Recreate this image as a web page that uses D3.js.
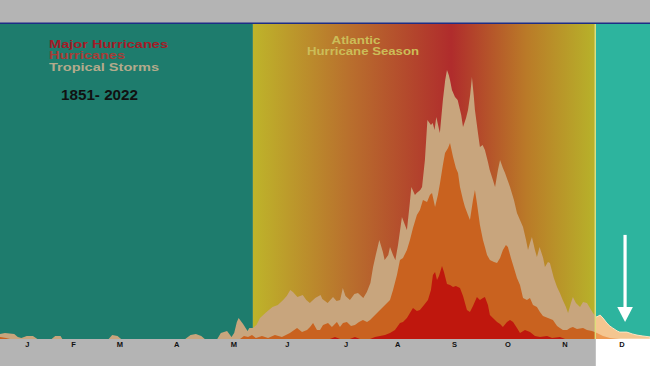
<!DOCTYPE html>
<html><head><meta charset="utf-8">
<script src="https://cdn.jsdelivr.net/npm/d3@7/dist/d3.min.js"></script>
<style>html,body{margin:0;padding:0;background:#b4b4b4;}svg{display:block;}</style>
</head><body>
<script>
// ---- data (day of year, storms per period) ----
const monthLabels = ["J","F","M","A","M","J","J","A","S","O","N","D"];
const monthTickDays = [15,41,67,99,131,161,194,223,255,285,317,349];
const seasonStartDay = 142;
const seasonEndDay = 334;
const arrowDay = 351;

const tropicalStorms = [
[0,1.7],[2.8,2],[8,1.7],[10,0.7],[12,0.3],[15,1],[18.5,1],[21,0],[29,0],[31,1],[34,1],[35,0],[61,0],[63,1.3],[66,1],[68,0],
[104,0],[107,1.3],[110,1.7],[113,1],[115,0],[122,0],[124,2],[127.5,2.7],[130,0.7],[131.5,2],[133,5.7],[134,7],[136.5,5],[139,2.7],
[140,3.7],[142,3.7],[144,4.7],[146,7],[149,8.7],[153,10.7],[156,11.3],[159,13],[161,14.3],[163,16.3],[164.5,15.7],[167,14],
[170,14.7],[172,13],[174,12],[177,13.7],[180,14.7],[181,13.3],[184,12],[187,14],[189,12.7],[191,13],[192.5,17],[194,14.3],
[196.5,13],[199,15],[201,15.3],[204,13.7],[206,15.7],[208,18.7],[209.5,24],[211,28],[213,33],[215,29],[216,26.3],[218,28],
[219,30.7],[220.7,28],[222,26.3],[223.5,31.3],[225.7,40.7],[227.4,38],[228.5,36.3],[230,44.7],[231,50.7],[233,48],[234,48.7],
[236,49.7],[237,50.7],[238.6,59.7],[240,73],[242,71.3],[243,72],[244,69.7],[245,74],[247,68.7],[248.7,79.7],[250,86.3],
[251,89.7],[252,88],[252.7,86.3],[253.8,83],[255.5,80.7],[257,79.7],[259,74.7],[260,70.7],[261.7,73.7],[262.8,76.3],[264,81.3],
[265,87.3],[266,81.3],[266.7,76.3],[268.4,68.7],[269.5,64],[271,64.7],[272.3,63],[274,59],[275,56.3],[276.8,53],[278,50.7],
[279.6,56.3],[280.8,59.7],[282.4,57],[283.6,55.3],[285,53],[286.4,50.7],[288.6,46.3],[290.3,42],[292,39.7],[293.7,37.3],
[295.4,33],[296.5,29.7],[297.6,32],[298.7,34],[300.4,29.7],[301.5,27.3],[303,30.7],[305,27],[306,24],[307.7,25.7],[308.8,25.3],
[311,20.3],[312.8,17.3],[314.4,15.3],[316,13],[317.8,10.7],[319,8.7],[320.6,12],[321.7,14],[323.4,12],[325.7,10.7],[327.4,12.3],
[329.6,12],[331.3,10.3],[333,8.7],[335,7.3],[337,8],[338.6,7],[340.8,5.3],[342.5,4.3],[344,3.7],[346.5,2.7],[348,2.3],[352,2.3],
[355,1.7],[357.7,1.3],[361,1],[365,0.7]
];

const hurricanes = [
[0,0.7],[3.4,0.3],[5.6,0],[134.8,0],[137,1],[139.3,0.7],[141.5,1.3],[143.7,0.3],[147.1,1],[150.5,0.3],[154.4,1.3],[158.3,0.7],
[162.8,2],[166.8,3.7],[169.6,2.3],[172.4,3],[174.1,4],[175.8,5.3],[178,3],[179.7,3],[181.4,4.7],[184.2,5.3],[186.4,4],[189.2,5.7],
[190.9,4],[192.6,5.3],[194.8,5.7],[197.1,4.3],[199.3,4.7],[201.6,5.7],[203.8,6.3],[206.1,5.7],[207.8,6.3],[210.6,8],[213.4,9.7],
[216.2,11.3],[219,13],[220.7,16.3],[222.9,21.3],[224.6,26.3],[226.3,27],[228.5,29.7],[230.2,33],[231.9,37],[234.1,41.3],[235.8,43],
[237.5,46.3],[239.8,45.7],[241.4,48],[242.6,48.7],[244.3,44],[245.9,48],[247.1,52],[248.7,58],[249.9,62],[251.6,63.7],[252.7,65.3],
[254.4,60.7],[256,57],[257.2,55.3],[258.3,50.7],[260,46.3],[261.1,44],[262.8,41.3],[263.9,39.7],[265.6,46.3],[266.7,49.7],[267.8,45.3],
[269.5,38],[271.2,33],[272.3,30.7],[273.5,28],[275.1,26.3],[277.4,25.7],[279.1,25.3],[280.8,27],[282.4,29.7],[284.1,31.3],[285.2,30.7],
[286.9,27],[288.1,24.7],[290.3,20.3],[292,18],[293.7,13.7],[295.9,13],[297.6,13.7],[299.3,11.3],[301.5,10.7],[303.2,9],[304.9,7.7],
[307.7,7],[310.5,6.3],[312.8,4.3],[314.4,3.7],[316.1,3],[318.4,3],[320.1,3.7],[321.7,4],[324,3.3],[327.4,3.7],[329.6,3],[332.4,2.7],
[335.2,2],[338.6,1],[342.5,0.3],[348.1,0],[365,0]
];

const majorHurricanes = [
[0,0],[185.3,0],[188.1,0.7],[190.9,0],[196.5,0],[199.3,0.7],[202.1,0],[207.8,0],[210.6,0.7],[213.4,1],[216.2,1.3],[219,2],[221.8,3],
[224.6,5.3],[226.3,5.7],[228.5,7],[230.2,8.7],[231.9,10.3],[234.1,9.3],[235.8,9.7],[238.1,11.3],[240.3,13],[242,16.3],[243.1,21.3],
[244.3,22.3],[245.4,19.7],[246.5,21],[248.2,24.3],[249.3,22.3],[251,18.3],[252.7,18],[254.4,17.3],[256,17.7],[258.3,17],[260,14.3],
[262.2,9.7],[263.9,9],[265.6,11],[267.8,14],[269.5,13],[271.2,13.7],[272.3,14],[274,11.3],[275.1,8],[276.8,7],[279.1,5.7],[280.8,5],
[282.4,4],[284.7,5.7],[286.4,6.3],[288.1,5.7],[290.3,3.7],[292,2],[294.8,3],[297.6,2.3],[300.4,1],[303.2,0.7],[307.2,1],[310,0.3],
[314.4,0.7],[317.3,0],[365,0]
];

const legendLabels = ["Major Hurricanes","Hurricanes","Tropical Storms"];
const periodLabel = "1851- 2022";
const titleLines = ["Atlantic","Hurricane Season"];

// ---- drawing ----
const W = 650, H = 366;
const plotTop = 24, plotBottom = 339;
const svg = d3.select("body").append("svg").attr("width", W).attr("height", H);

const x = d3.scaleLinear().domain([0, 365]).range([0, W]);
const y = d3.scaleLinear().domain([0, 90]).range([plotBottom, 69]);

const defs = svg.append("defs");
const grad = defs.append("linearGradient").attr("id","season").attr("x1","0%").attr("x2","100%").attr("y1","0%").attr("y2","0%");
[[0,"rgb(190,180,42)"],[0.28,"rgb(185,112,45)"],[0.58,"rgb(176,44,44)"],[0.8,"rgb(186,122,40)"],[1,"rgb(183,178,42)"]]
  .forEach(([o,c]) => grad.append("stop").attr("offset", o).attr("stop-color", c));

defs.append("clipPath").attr("id","mainClip").append("rect")
  .attr("x",0).attr("y",plotTop).attr("width",x(seasonEndDay)+1).attr("height",plotBottom-plotTop);
defs.append("clipPath").attr("id","decClip").append("rect")
  .attr("x",x(seasonEndDay)+1).attr("y",plotTop).attr("width",W-x(seasonEndDay)).attr("height",plotBottom-plotTop);

// frame backgrounds
svg.append("rect").attr("x",0).attr("y",0).attr("width",W).attr("height",H).attr("fill","#b4b4b4");
svg.append("rect").attr("x",x(seasonEndDay)+1).attr("y",plotBottom).attr("width",W).attr("height",H-plotBottom).attr("fill","#ffffff");
svg.append("rect").attr("x",0).attr("y",plotTop).attr("width",x(seasonStartDay)).attr("height",plotBottom-plotTop).attr("fill","#1e7c6d");
svg.append("rect").attr("x",x(seasonStartDay)).attr("y",plotTop).attr("width",x(seasonEndDay)-x(seasonStartDay)).attr("height",plotBottom-plotTop).attr("fill","url(#season)");
svg.append("rect").attr("x",x(seasonEndDay)+1).attr("y",plotTop).attr("width",W-x(seasonEndDay)).attr("height",plotBottom-plotTop).attr("fill","#2db49e");
svg.append("line").attr("x1",0).attr("x2",W).attr("y1",plotTop-0.8).attr("y2",plotTop-0.8).attr("stroke","#1d2d85").attr("stroke-width",1.6);

const area = d3.area().x(d => x(d[0])).y0(y(0)).y1(d => y(d[1])).curve(d3.curveLinear);
const series = [
  {data: tropicalStorms, fill: "#c8a57d", light: "#f4c690", stroke: "#fde3c2"},
  {data: hurricanes, fill: "#c9621f", light: "#ee9a52", stroke: "none"},
  {data: majorHurricanes, fill: "#bf170d", light: "#e8603c", stroke: "none"}
];
const gMain = svg.append("g").attr("clip-path","url(#mainClip)");
const gDec = svg.append("g").attr("clip-path","url(#decClip)");
series.forEach(s => {
  gMain.append("path").attr("d", area(s.data)).attr("fill", s.fill);
  gDec.append("path").attr("d", area(s.data)).attr("fill", s.light)
    .attr("stroke", s.stroke).attr("stroke-width", 1);
});

// season edge line
svg.append("line").attr("x1",x(seasonEndDay)+0.5).attr("x2",x(seasonEndDay)+0.5)
  .attr("y1",plotTop).attr("y2",plotBottom).attr("stroke","#dfe27a").attr("stroke-width",1.3);

// month axis
const xAxis = d3.axisBottom(x).tickValues(monthTickDays)
  .tickFormat((d,i) => monthLabels[i]).tickSize(0).tickPadding(3);
const ax = svg.append("g").attr("transform",`translate(0,${plotBottom})`).call(xAxis);
ax.select(".domain").remove();
ax.selectAll("text").attr("font-family","Liberation Sans, Arial, sans-serif")
  .attr("font-weight","bold").attr("font-size",7.5).attr("fill","#111");

// arrow annotation
const ax0 = x(arrowDay);
svg.append("rect").attr("x",ax0-1.6).attr("y",y(34.7)).attr("width",3.2).attr("height",y(10.5)-y(34.7)).attr("fill","#ffffff");
svg.append("path").attr("d",`M${ax0-7.8},${y(10.7)} L${ax0+7.8},${y(10.7)} L${ax0},${y(5.7)} Z`).attr("fill","#ffffff");

// legend
const font = "Liberation Sans, Arial, sans-serif";
const legendColors = ["#a41b27","#a83c36","#b3aa8c"];
const legendLens = [119, 76, 110];
const legendY = [48, 59, 70.5];
legendLabels.forEach((t,i) => {
  svg.append("text").attr("x",49).attr("y",legendY[i]).text(t)
    .attr("font-family",font).attr("font-weight","bold").attr("font-size",10)
    .attr("textLength",legendLens[i]).attr("lengthAdjust","spacingAndGlyphs")
    .attr("fill",legendColors[i]);
});
svg.append("text").attr("x",61).attr("y",100).text(periodLabel)
  .attr("font-family",font).attr("font-weight","bold").attr("font-size",15.5)
  .attr("textLength",77).attr("lengthAdjust","spacingAndGlyphs").attr("fill","#111");

const titleX = [356, 363], titleY = [44, 55], titleLen = [49, 112];
titleLines.forEach((t,i) => {
  svg.append("text").attr("x",titleX[i]-titleLen[i]/2).attr("y",titleY[i]).text(t)
    .attr("font-family",font).attr("font-weight","bold").attr("font-size",10.5)
    .attr("textLength",titleLen[i]).attr("lengthAdjust","spacingAndGlyphs")
    .attr("fill","#ccbd58");
});
</script>
</body></html>
